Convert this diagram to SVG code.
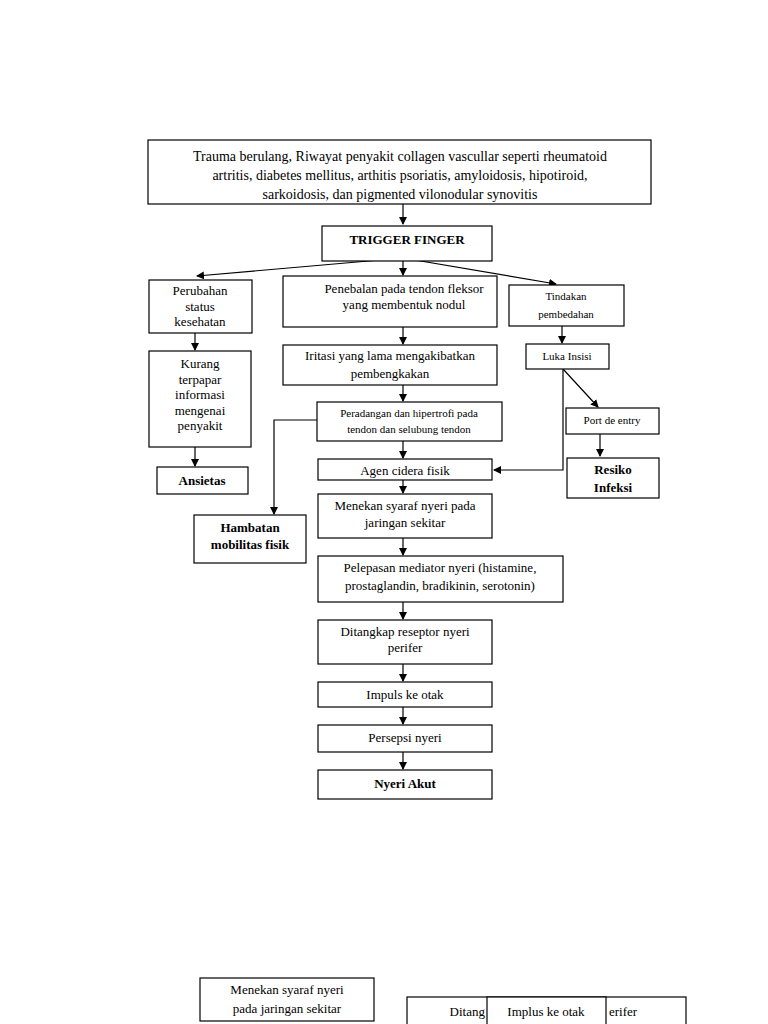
<svg xmlns="http://www.w3.org/2000/svg" width="768" height="1024" viewBox="0 0 768 1024">
<style>
rect{fill:#fff;stroke:#000;stroke-width:1.2}
text{font-family:"Liberation Serif","DejaVu Serif",serif;font-size:13px;fill:#000;text-anchor:middle}
.t{font-size:14px}
.s{font-size:11px}
.b{font-weight:bold}
.c line,.c polyline{stroke:#000;stroke-width:1.2;fill:none}
</style>
<defs><marker id="a" markerWidth="8" markerHeight="8" refX="7" refY="4" orient="auto" markerUnits="userSpaceOnUse"><path d="M0,0L8,4L0,8z" fill="#000"/></marker></defs>
<rect width="768" height="1024" style="stroke:none"/>
<g class="c">
<line x1="403" y1="204" x2="403" y2="224" marker-end="url(#a)"/>
<line x1="403" y1="258" x2="197" y2="276" marker-end="url(#a)"/>
<line x1="403" y1="258" x2="403" y2="275" marker-end="url(#a)"/>
<line x1="403" y1="258" x2="556" y2="284" marker-end="url(#a)"/>
<line x1="195" y1="333" x2="195" y2="350" marker-end="url(#a)"/>
<line x1="195" y1="447" x2="195" y2="466" marker-end="url(#a)"/>
<line x1="403" y1="327" x2="403" y2="344" marker-end="url(#a)"/>
<line x1="562" y1="326" x2="562" y2="343" marker-end="url(#a)"/>
<line x1="563" y1="369" x2="598" y2="407" marker-end="url(#a)"/>
<polyline points="563,369 563,470 494,470" marker-end="url(#a)"/>
<line x1="600" y1="434" x2="600" y2="456" marker-end="url(#a)"/>
<line x1="403" y1="385" x2="403" y2="401" marker-end="url(#a)"/>
<polyline points="317,420 274,420 274,514" marker-end="url(#a)"/>
<line x1="403" y1="441" x2="403" y2="458" marker-end="url(#a)"/>
<line x1="403" y1="480" x2="403" y2="493" marker-end="url(#a)"/>
<line x1="403" y1="538" x2="403" y2="555" marker-end="url(#a)"/>
<line x1="403" y1="602" x2="403" y2="619" marker-end="url(#a)"/>
<line x1="403" y1="664" x2="403" y2="681" marker-end="url(#a)"/>
<line x1="403" y1="707" x2="403" y2="724" marker-end="url(#a)"/>
<line x1="403" y1="752" x2="403" y2="769" marker-end="url(#a)"/>
</g>
<g id="n1"><rect x="148" y="140" width="503" height="64"/><text class="t" x="400" y="161">Trauma berulang, Riwayat penyakit collagen vascullar seperti rheumatoid</text><text class="t" x="400" y="180">artritis, diabetes mellitus, arthitis psoriatis, amyloidosis, hipotiroid,</text><text class="t" x="400" y="199">sarkoidosis, dan pigmented vilonodular synovitis</text></g>
<g id="n2"><rect x="322" y="226" width="170" height="35"/><text class="b" x="407" y="244">TRIGGER FINGER</text></g>
<g id="n3"><rect x="149" y="280" width="103" height="53"/><text x="200" y="295">Perubahan</text><text x="200" y="311">status</text><text x="200" y="326">kesehatan</text></g>
<g id="n4"><rect x="283" y="276" width="214" height="51"/><text x="404" y="293">Penebalan pada tendon fleksor</text><text x="404" y="309">yang membentuk nodul</text></g>
<g id="n5"><rect x="509" y="285" width="115" height="41"/><text class="s" x="566" y="300">Tindakan</text><text class="s" x="566" y="318">pembedahan</text></g>
<g id="n6"><rect x="149" y="351" width="102" height="96"/><text x="200" y="368">Kurang</text><text x="200" y="384">terpapar</text><text x="200" y="399">informasi</text><text x="200" y="415">mengenai</text><text x="200" y="430">penyakit</text></g>
<g id="n7"><rect x="157" y="467" width="91" height="27"/><text class="b" x="202" y="485">Ansietas</text></g>
<g id="n8"><rect x="283" y="345" width="214" height="40"/><text x="390" y="360">Iritasi yang lama mengakibatkan</text><text x="390" y="378">pembengkakan</text></g>
<g id="n9"><rect x="526" y="344" width="83" height="25"/><text class="s" x="567" y="360">Luka Insisi</text></g>
<g id="n10"><rect x="566" y="408" width="93" height="26"/><text class="s" x="612" y="424">Port de entry</text></g>
<g id="n11"><rect x="567" y="458" width="92" height="40"/><text class="b" x="613" y="474">Resiko</text><text class="b" x="613" y="492">Infeksi</text></g>
<g id="n12"><rect x="317" y="402" width="185" height="39"/><text class="s" x="409" y="417">Peradangan dan hipertrofi pada</text><text class="s" x="409" y="433">tendon dan selubung tendon</text></g>
<g id="n13"><rect x="194" y="515" width="112" height="48"/><text class="b" x="250" y="532">Hambatan</text><text class="b" x="250" y="549">mobilitas fisik</text></g>
<g id="n14"><rect x="318" y="459" width="174" height="21"/><text x="405" y="475">Agen cidera fisik</text></g>
<g id="n15"><rect x="318" y="494" width="174" height="44"/><text x="405" y="510">Menekan syaraf nyeri pada</text><text x="405" y="527">jaringan sekitar</text></g>
<g id="n16"><rect x="318" y="556" width="245" height="46"/><text x="440" y="572">Pelepasan mediator nyeri (histamine,</text><text x="440" y="590">prostaglandin, bradikinin, serotonin)</text></g>
<g id="n17"><rect x="318" y="620" width="174" height="44"/><text x="405" y="636">Ditangkap reseptor nyeri</text><text x="405" y="652">perifer</text></g>
<g id="n18"><rect x="318" y="682" width="174" height="25"/><text x="405" y="699">Impuls ke otak</text></g>
<g id="n19"><rect x="318" y="725" width="174" height="27"/><text x="405" y="742">Persepsi nyeri</text></g>
<g id="n20"><rect x="318" y="770" width="174" height="29"/><text class="b" x="405" y="788">Nyeri Akut</text></g>
<g id="n21"><rect x="200" y="978" width="174" height="43"/><text x="287" y="994">Menekan syaraf nyeri</text><text x="287" y="1013">pada jaringan sekitar</text></g>
<g id="n22"><rect x="407" y="997" width="279" height="30"/><text x="485" y="1016" style="text-anchor:end">Ditang</text><text x="609" y="1016" style="text-anchor:start">erifer</text></g>
<g id="n23"><rect x="487" y="997" width="119" height="30"/><text x="546" y="1016">Implus ke otak</text></g>
</svg>
